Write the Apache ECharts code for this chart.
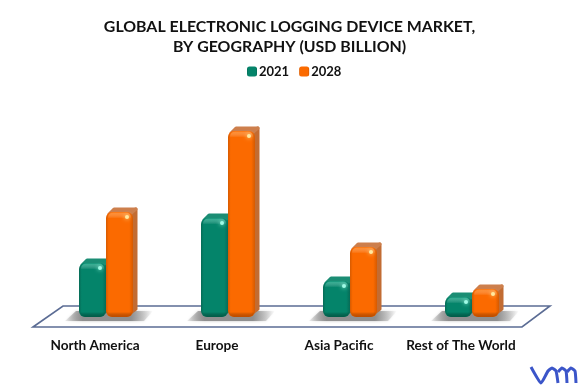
<!DOCTYPE html>
<html><head><meta charset="utf-8">
<style>html,body{margin:0;padding:0;background:#fff}#c{width:579px;height:387px}</style>
<script src="https://cdn.jsdelivr.net/npm/echarts@6/dist/echarts.min.js"></script>
</head><body><div id="c"></div>
<script>
const categories = ['North America','Europe','Asia Pacific','Rest of The World'];
const values2021 = [2.7, 4.95, 1.8, 1.0];
const values2028 = [5.25, 9.3, 3.5, 1.4];
const titleLines = 'GLOBAL ELECTRONIC LOGGING DEVICE MARKET,\nBY GEOGRAPHY (USD BILLION)';
const FONT = 'Lato, "Open Sans", sans-serif';
const BW = 27, DX = 5, DY = 4;
const GREEN = '#04846a', ORANGE = '#fb6a00', GREEN_SIDE = '#0a7560', ORANGE_SIDE = '#c26c33';

function bevel(edge, mid) {
  return {type:'linear',x:0,y:0,x2:1,y2:0,colorStops:[
    {offset:0,color:edge},{offset:0.1,color:mid},{offset:0.86,color:mid},{offset:1,color:edge}]};
}
function depthItem(side, sideColor, topColor) {
  return function (params, api) {
    const p = api.coord([api.value(0), api.value(1)]);
    const b = api.coord([api.value(0), 0]);
    const l = p[0] + side * BW, r = l + BW, t = p[1];
    const st = c => ({fill:c,stroke:c,lineWidth:3,lineJoin:'round'});
    return {type:'group',children:[
      {type:'polygon',shape:{points:[[r-4,t],[r+DX-2,t-DY+1],[r+DX-2,b[1]-8],[r-4,b[1]-3]]},style:st(sideColor)},
      {type:'polygon',shape:{points:[[l+3,t+2],[l+DX+3,t-DY+1],[r+DX-2,t-DY+1],[r-4,t+3]]},style:st(topColor)}
    ]};
  };
}
function glossItem(side, color, dark, light) {
  return function (params, api) {
    const p = api.coord([api.value(0), api.value(1)]);
    const b = api.coord([api.value(0), 0]);
    const l = p[0] + side * BW, r = l + BW;
    const vg = (a, c) => ({type:'linear',x:0,y:0,x2:0,y2:1,colorStops:[{offset:0,color:a},{offset:1,color:c}]});
    const h = b[1] - p[1];
    return {type:'group',children:[
      {type:'rect',shape:{x:l+2,y:p[1]+0.5,width:BW-4,height:Math.min(6,h/3),r:[5,5,0,0]},style:{fill:vg(light,'rgba(255,255,255,0)')}},
      {type:'rect',shape:{x:l+1,y:b[1]-5,width:BW-2,height:5,r:[0,0,5,5]},style:{fill:vg('rgba(0,0,0,0)',dark)}},
      {type:'circle',shape:{cx:r-6,cy:p[1]+5,r:2},style:{fill:color,shadowBlur:4,shadowColor:color}}
    ]};
  };
}
function shadowItem(params, api) {
  const c = api.coord([api.value(0), 0]);
  const x = c[0], y = c[1];
  return {type:'polygon',
    shape:{points:[[x-41,y+4],[x-30,y-6],[x+47,y-6],[x+38,y+4]]},
    style:{fill:{type:'linear',x:0,y:0,x2:1,y2:0,colorStops:[
      {offset:0,color:'rgba(130,130,130,0.1)'},{offset:0.2,color:'#8f8f8f'},
      {offset:0.75,color:'#8f8f8f'},{offset:1,color:'rgba(170,170,170,0)'}]},
      shadowBlur:3,shadowColor:'rgba(150,150,150,0.6)'}};
}
function floorItem(params, api) {
  const cs = params.coordSys;
  const y = api.coord([0, 0])[1];
  const x0 = cs.x, x1 = cs.x + cs.width;
  return {type:'polygon',
    shape:{points:[[x0-12,y+10],[x0+18,y-11],[x1+17,y-11],[x1-11,y+10]]},
    style:{fill:'#fff',stroke:'#5b6c94',lineWidth:1.6}};
}
const catData = categories.map((c,i)=>[i,0]);
function pairs(v){return v.map((d,i)=>[i,d]);}
const logoStyle = {fill:'none',stroke:'#3b55c9',lineWidth:3};
const chart = echarts.init(document.getElementById('c'),null,{renderer:'canvas'});
chart.setOption({
  animation:false,
  backgroundColor:'#fff',
  title:{text:titleLines,left:'center',top:12,itemGap:0,
    textStyle:{fontFamily:FONT,fontWeight:'bold',fontSize:15.9,lineHeight:20,color:'#111'}},
  legend:{data:['2021','2028'],top:60,left:242,itemWidth:10,itemHeight:10,itemGap:10,
    textStyle:{fontFamily:FONT,fontWeight:'bold',fontSize:13,color:'#111',padding:[0,0,0,-3]}},
  grid:{left:45,width:488,top:117,height:200},
  xAxis:{type:'category',data:categories,axisLine:{show:false},axisTick:{show:false},
    axisLabel:{interval:0,margin:22,padding:[0,22,0,0],fontFamily:FONT,fontWeight:'bold',fontSize:13.6,color:'#111'}},
  yAxis:{type:'value',min:0,max:10,show:false,splitLine:{show:false}},
  series:[
    {type:'custom',name:'floor',z:0,silent:true,renderItem:floorItem,data:[[0,0]],encode:{x:0,y:1},clip:false},
    {type:'custom',name:'shadow',z:1,silent:true,renderItem:shadowItem,data:catData,encode:{x:0,y:1},clip:false},
    {type:'custom',name:'d21',z:2,silent:true,renderItem:depthItem(-1,GREEN_SIDE,'#1b8d74'),data:pairs(values2021),encode:{x:0,y:1},clip:false},
    {type:'bar',name:'2021',z:3,data:values2021,barWidth:BW,barGap:'0%',
      itemStyle:{color:bevel('#076b56',GREEN),borderRadius:[6,6,6,6]}},
    {type:'custom',name:'d28',z:4,silent:true,renderItem:depthItem(0,ORANGE_SIDE,'#cd7f4c'),data:pairs(values2028),encode:{x:0,y:1},clip:false},
    {type:'bar',name:'2028',z:5,data:values2028,barWidth:BW,barGap:'0%',
      itemStyle:{color:bevel('#d65a00',ORANGE),borderRadius:[6,6,6,6]}},
    {type:'custom',name:'g21',z:6,silent:true,renderItem:glossItem(-1,'#9ffbe6','rgba(0,60,45,0.55)','rgba(90,210,180,0.55)'),data:pairs(values2021),encode:{x:0,y:1},clip:false},
    {type:'custom',name:'g28',z:6,silent:true,renderItem:glossItem(0,'#ffe9a0','rgba(130,50,0,0.5)','rgba(255,170,90,0.55)'),data:pairs(values2028),encode:{x:0,y:1},clip:false}
  ],
  graphic:[
    {type:'polyline',silent:true,shape:{points:[[531,367],[541,383],[548,371],[552,368],[556,371],[558,383]],smooth:0.15},style:logoStyle},
    {type:'polyline',silent:true,shape:{points:[[558,372],[562,368],[566,371],[567,383]],smooth:0.15},style:logoStyle},
    {type:'polyline',silent:true,shape:{points:[[567,372],[571,368],[575,371],[576,383]],smooth:0.15},style:logoStyle}
  ]
});
</script></body></html>
